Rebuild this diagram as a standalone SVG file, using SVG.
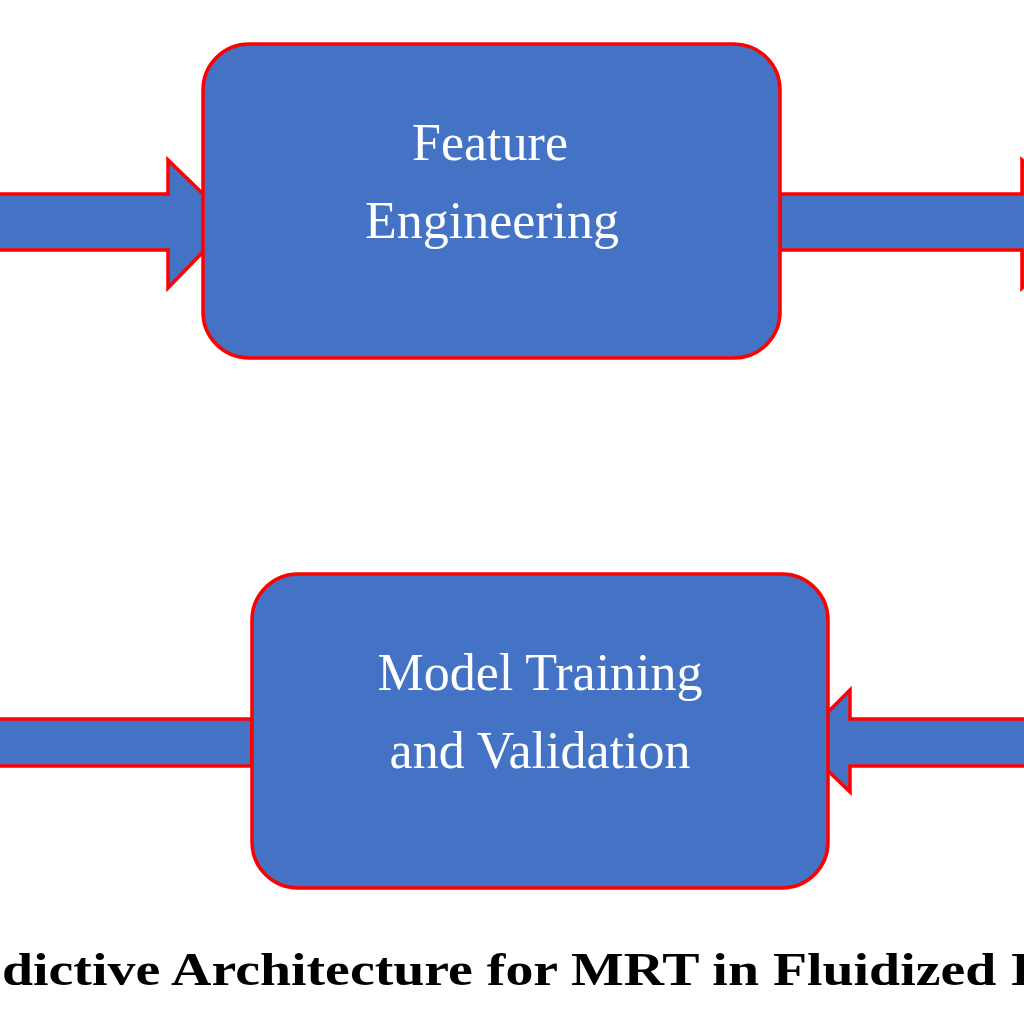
<svg xmlns="http://www.w3.org/2000/svg" width="1024" height="1024" viewBox="0 0 1024 1024">
<style>
.box{fill:#4472C4;stroke:#FF0000;stroke-width:3.5}
.arr{fill:#4472C4;stroke:#FF0000;stroke-width:3.5;stroke-linejoin:miter}
.lbl{font-family:"Liberation Serif",serif;font-size:52px;fill:#fff;text-anchor:middle}
.cap{font-family:"Liberation Serif",serif;font-size:46px;font-weight:bold;fill:#000}
</style>
<rect width="1024" height="1024" fill="#fff"/>
<g id="connectors">
<path class="arr" d="M-10 194 H168 V160 L232 222 L168 288 V250 H-10 Z"/>
<path class="arr" d="M780 194 H1022 V160 L1090 222 L1022 288 V250 H780 Z"/>
<path class="arr" d="M252 719 H-10 V766 H252 Z"/>
<path class="arr" d="M1034 719 H850 V690 L798 742 L850 792 V766 H1034 Z"/>
</g>
<g id="feature">
<rect class="box" x="203" y="44" width="577" height="314" rx="46"/>
<text class="lbl" x="490" y="160">Feature</text>
<text class="lbl" x="492" y="238">Engineering</text>
</g>
<g id="model">
<rect class="box" x="252" y="574" width="576" height="314" rx="46"/>
<text class="lbl" x="540" y="690">Model Training</text>
<text class="lbl" x="540" y="768">and Validation</text>
</g>
<text class="cap" x="2" y="985" textLength="1030" lengthAdjust="spacingAndGlyphs">dictive Architecture for MRT in Fluidized I</text>
</svg>
